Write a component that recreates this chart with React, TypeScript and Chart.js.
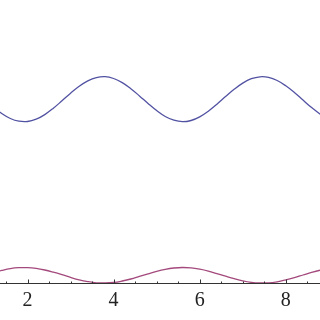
import React, { useEffect, useRef } from "react";
import { Chart, registerables } from "chart.js";

Chart.register(...registerables);

const xValues = [
  1.2, 1.4, 1.6, 1.8, 2.0, 2.2, 2.4, 2.6, 2.8, 3.0, 3.2, 3.4, 3.6, 3.8, 4.0,
  4.2, 4.4, 4.6, 4.8, 5.0, 5.2, 5.4, 5.6, 5.8, 6.0, 6.2, 6.4, 6.6, 6.8, 7.0,
  7.2, 7.4, 7.6, 7.8, 8.0, 8.2, 8.4, 8.6, 8.8, 9.0,
];

const blueSeries = [
  1.762, 1.695, 1.645, 1.618, 1.615, 1.638, 1.684, 1.748, 1.822, 1.898, 1.967,
  2.021, 2.054, 2.063, 2.045, 2.004, 1.943, 1.871, 1.795, 1.724, 1.665, 1.628,
  1.613, 1.625, 1.661, 1.718, 1.788, 1.864, 1.937, 1.999, 2.043, 2.062, 2.056,
  2.025, 1.972, 1.905, 1.829, 1.754, 1.689, 1.641,
];

const purpleSeries = [
  0.104, 0.126, 0.144, 0.153, 0.154, 0.146, 0.13, 0.108, 0.083, 0.056, 0.032,
  0.014, 0.002, 0.0, 0.005, 0.02, 0.04, 0.066, 0.092, 0.117, 0.137, 0.15, 0.155,
  0.151, 0.138, 0.119, 0.094, 0.068, 0.043, 0.021, 0.006, 0.0, 0.001, 0.012,
  0.031, 0.054, 0.08, 0.106, 0.128, 0.145,
];

const majorTicks = [2, 4, 6, 8];
const minorTicks = [1.5, 2.5, 3, 3.5, 4.5, 5, 5.5, 6.5, 7, 7.5, 8.5];

const X_MIN = 1.36;
const X_MAX = 8.795;
const Y_MIN = 0;
const Y_MAX = 2.83;

const axisPlugin = {
  id: "mmaAxis",
  afterDatasetsDraw(chart: any) {
    const { ctx, scales } = chart;
    const xs = scales.x;
    const ys = scales.y;
    const y0 = Math.round(ys.getPixelForValue(0)) + 0.5;
    ctx.save();
    ctx.strokeStyle = "#333333";
    ctx.lineWidth = 1;
    ctx.beginPath();
    ctx.moveTo(0, y0);
    ctx.lineTo(chart.width, y0);
    ctx.stroke();
    for (const v of majorTicks) {
      const px = Math.round(xs.getPixelForValue(v)) + 0.5;
      ctx.beginPath();
      ctx.moveTo(px, y0);
      ctx.lineTo(px, y0 - 4);
      ctx.stroke();
    }
    for (const v of minorTicks) {
      const px = Math.round(xs.getPixelForValue(v)) + 0.5;
      ctx.beginPath();
      ctx.moveTo(px, y0);
      ctx.lineTo(px, y0 - 2);
      ctx.stroke();
    }
    ctx.restore();
  },
};

export default function App() {
  const canvasRef = useRef<HTMLCanvasElement | null>(null);

  useEffect(() => {
    if (!canvasRef.current) return;
    const blueData = xValues.map((x, i) => ({ x, y: blueSeries[i] }));
    const purpleData = xValues.map((x, i) => ({ x, y: purpleSeries[i] }));
    const chart = new Chart(canvasRef.current, {
      type: "line",
      data: {
        datasets: [
          {
            data: blueData,
            borderColor: "#5252a3",
            borderWidth: 1.3,
            pointRadius: 0,
            tension: 0.4,
            fill: false,
          },
          {
            data: purpleData,
            borderColor: "#a3497c",
            borderWidth: 1.3,
            pointRadius: 0,
            tension: 0.4,
            fill: false,
          },
        ],
      },
      options: {
        animation: false,
        responsive: false,
        devicePixelRatio: 1,
        layout: { padding: 0 },
        plugins: {
          legend: { display: false },
          tooltip: { enabled: false },
        },
        scales: {
          x: {
            type: "linear",
            min: X_MIN,
            max: X_MAX,
            grid: { display: false, drawTicks: false },
            border: { display: false },
            afterFit: (scale: any) => {
              scale.height = 37;
            },
            afterBuildTicks: (scale: any) => {
              scale.ticks = majorTicks.map((v) => ({ value: v }));
            },
            ticks: {
              autoSkip: false,
              maxRotation: 0,
              padding: 6,
              color: "#222222",
              font: { family: "'Liberation Serif', 'Times New Roman', serif", size: 20 },
              callback: (v: any) => String(v),
            },
          },
          y: {
            type: "linear",
            display: false,
            min: Y_MIN,
            max: Y_MAX,
          },
        },
      },
      plugins: [axisPlugin],
    });
    return () => chart.destroy();
  }, []);

  return (
    <div style={{ position: "fixed", left: 0, top: 0, width: 320, height: 320, background: "#ffffff" }}>
      <canvas ref={canvasRef} width={320} height={320} />
    </div>
  );
}
